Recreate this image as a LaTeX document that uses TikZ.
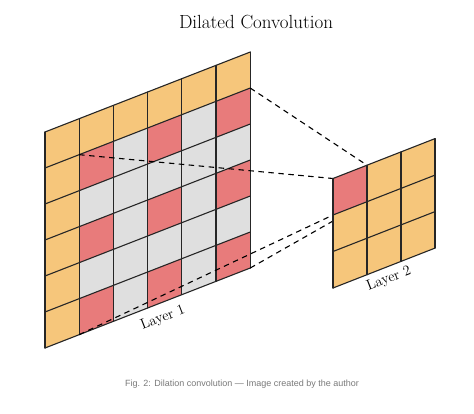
\documentclass[tikz,border=0pt]{standalone}
\usepackage{fontspec}
\newfontfamily\capfont{Liberation Sans}
\definecolor{cellorange}{HTML}{F6C67B}
\definecolor{cellred}{HTML}{E87B7B}
\definecolor{cellgray}{HTML}{DFDFDF}
\definecolor{gridcol}{HTML}{262626}
\definecolor{capgray}{HTML}{7A7A7A}
\tikzset{
  gridline/.style={draw=gridcol, line width=1.1pt, line cap=round},
  conn/.style={draw=black, line width=1.1pt, dash pattern=on 5.5pt off 4.5pt},
  layerlabel/.style={font=\fontsize{14.5}{16}\selectfont, rotate=21.3, inner sep=0pt},
}
\begin{document}
\begin{tikzpicture}[x=1pt, y=-1pt]
\useasboundingbox[fill=white] (0,0) rectangle (474,413);

\node[font=\fontsize{19}{22}\selectfont, anchor=base] (title) at (256,28) {Dilated Convolution};

% Layer 1
\begin{scope}[shift={(45,348)}, x={(34.2pt,13.33pt)}, y={(0pt,36pt)}]
  \foreach \c in {0,...,5} \foreach \r in {0,...,5} {
    \fill[cellgray] (\c,\r) -- ++(1,0) -- ++(0,1) -- ++(-1,0) -- cycle;
  }
  \foreach \c in {0,...,5} {
    \fill[cellorange] (\c,5) -- ++(1,0) -- ++(0,1) -- ++(-1,0) -- cycle;
  }
  \foreach \r in {0,...,4} {
    \fill[cellorange] (0,\r) -- ++(1,0) -- ++(0,1) -- ++(-1,0) -- cycle;
  }
  \foreach \c in {1,3,5} \foreach \r in {0,2,4} {
    \fill[cellred] (\c,\r) -- ++(1,0) -- ++(0,1) -- ++(-1,0) -- cycle;
  }
  \foreach \i in {0,...,6} {
    \draw[gridline] (\i,0) -- (\i,6);
    \draw[gridline] (0,\i) -- (6,\i);
  }
  \coordinate (a1) at (6,5);
  \coordinate (a2) at (1,5);
  \coordinate (a3) at (1,0);
  \coordinate (a4) at (6,0);
\end{scope}

% Layer 2 corner coordinates
\begin{scope}[shift={(333,288)}, x={(34pt,13.3pt)}, y={(0pt,36.5pt)}]
  \coordinate (b1) at (1,3);
  \coordinate (b2) at (0,3);
  \coordinate (b3) at (0,2);
  \coordinate (b4) at (1,2);
\end{scope}

% connectors
\draw[conn] (a1) -- (b1);
\draw[conn] (a2) -- (b2);
\draw[conn] (a3) -- (b3);
\draw[conn] (a4) -- (b4);

% Layer 2
\begin{scope}[shift={(333,288)}, x={(34pt,13.3pt)}, y={(0pt,36.5pt)}]
  \foreach \c in {0,...,2} \foreach \r in {0,...,2} {
    \fill[cellorange] (\c,\r) -- ++(1,0) -- ++(0,1) -- ++(-1,0) -- cycle;
  }
  \fill[cellred] (0,2) -- ++(1,0) -- ++(0,1) -- ++(-1,0) -- cycle;
  \foreach \i in {0,...,3} {
    \draw[gridline] (\i,0) -- (\i,3);
    \draw[gridline] (0,\i) -- (3,\i);
  }
\end{scope}

\node[layerlabel] (l1) at (163,318) {Layer 1};
\node[layerlabel] (l2) at (389,279) {Layer 2};

\node[font=\capfont\fontsize{9}{11}\selectfont, text=capgray] (cap) at (242,384) {Fig. 2: Dilation convolution — Image created by the author};
\end{tikzpicture}
\end{document}
